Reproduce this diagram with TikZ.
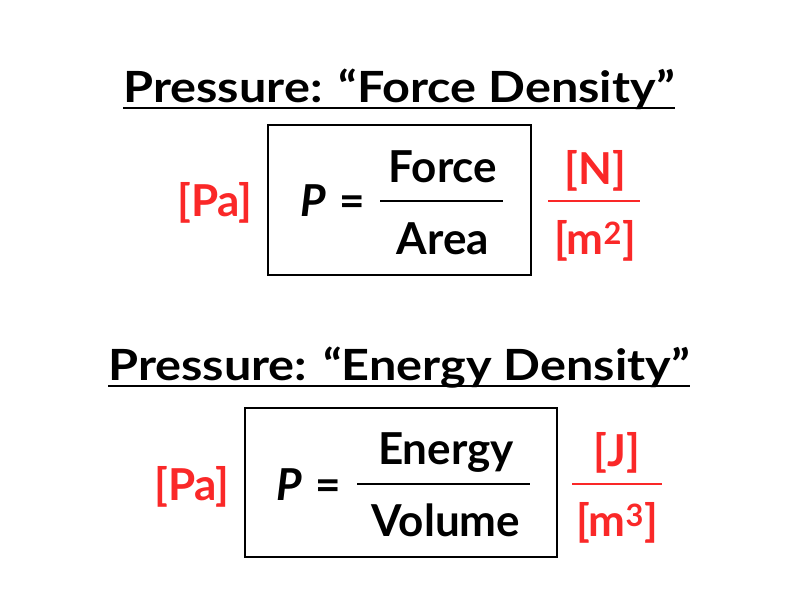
\documentclass[tikz,border=0pt]{standalone}
\usepackage{fontspec}
\setmainfont{Lato}
\definecolor{myred}{RGB}{250,40,40}
\begin{document}
\begin{tikzpicture}[x=1pt,y=-1pt,
  ttl/.style={font=\fontsize{43}{43}\selectfont\bfseries, anchor=base, xscale=1.13},
  big/.style={font=\fontsize{44}{44}\selectfont\bfseries, anchor=base},
  rd/.style={big, text=myred},
  ln/.style={line width=2pt}]
\useasboundingbox (0,0) rectangle (800,600);
% title 1
\node[ttl] (t1) at (399,102) {Pressure: “Force Density”};
\draw[ln] (123,108) -- (675,108);
\node[draw, line width=1.3pt, minimum width=263pt, minimum height=150pt] (b1) at (399.5,200) {};
\node[rd] (pa1) at (215,216) {[Pa]};
\node[big] (p1) at (313,216) {\itshape P};
\node[big] (eq1) at (352,216) {=};
\node[big] (f1) at (443,182) {Force};
\draw[ln] (380,201) -- (503,201);
\node[big] (a1) at (443,254) {Area};
\node[rd] (n1) at (595,184) {[N]};
\draw[ln, myred] (548,201) -- (640,201);
\node[rd] (m1) at (595,254) {[m\textsuperscript{2}]};
% title 2
\node[ttl] (t2) at (399,380) {Pressure: “Energy Density”};
\draw[ln] (108,386) -- (690,386);
\node[draw, line width=1.3pt, minimum width=312pt, minimum height=149pt] (b2) at (401,482.5) {};
\node[rd] (pa2) at (192,500) {[Pa]};
\node[big] (p2) at (289,500) {\itshape P};
\node[big] (eq2) at (328,500) {=};
\node[big] (e2) at (446,464) {Energy};
\draw[ln] (357,484) -- (530,484);
\node[big] (v2) at (446,536) {Volume};
\node[rd] (j2) at (617,466) {[J]};
\draw[ln, myred] (572,484) -- (662,484);
\node[rd] (m2) at (617,536) {[m\textsuperscript{3}]};
\end{tikzpicture}
\end{document}
